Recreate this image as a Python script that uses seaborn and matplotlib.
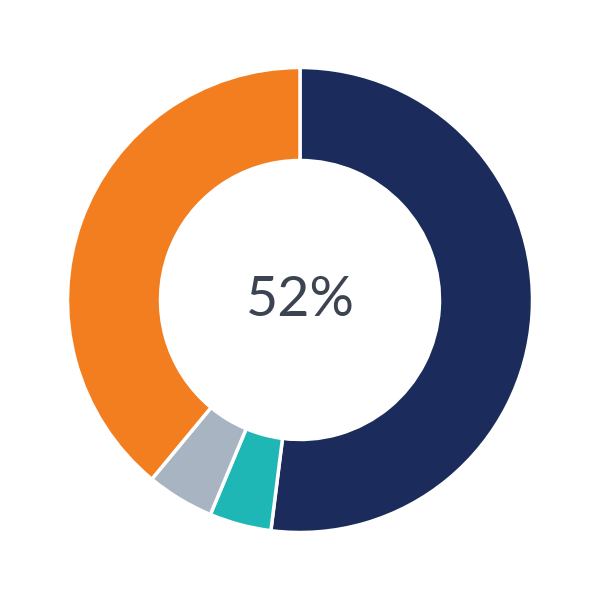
import matplotlib
matplotlib.use("Agg")
import matplotlib.pyplot as plt
import seaborn as sns

# slice values (percent), clockwise from the top
labels = ["Navy", "Teal", "Gray", "Orange"]
values = [52, 4.3, 4.7, 39]
colors = ["#1b2b5b", "#1fb6b6", "#a9b4c3", "#f37e20"]
center_text = "52%"

sns.set_theme(style="white")
plt.rcParams["font.family"] = ["Lato", "DejaVu Sans"]

fig, ax = plt.subplots(figsize=(6, 6), dpi=100)
fig.subplots_adjust(left=0, right=1, bottom=0, top=1)

ax.pie(
    values,
    colors=colors,
    startangle=90,
    counterclock=False,
    radius=0.775,
    wedgeprops=dict(width=0.31, edgecolor="white", linewidth=2.5),
)
ax.text(0, 0, center_text, ha="center", va="center",
        fontsize=40, fontweight="normal", color="#3d4451")
ax.set_xlim(-1, 1)
ax.set_ylim(-1, 1)
ax.set_aspect("equal")
ax.axis("off")

fig.savefig("out.png", dpi=100, facecolor="white")
